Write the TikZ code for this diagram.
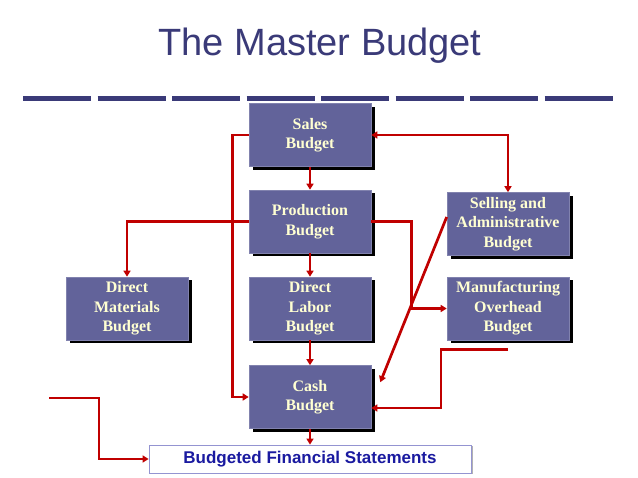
\documentclass[tikz,border=0pt]{standalone}
\usepackage{fontspec}
\setmainfont{Liberation Serif}
\setsansfont{Liberation Sans}
\usetikzlibrary{arrows.meta,shadows}
\definecolor{boxblue}{RGB}{98,99,154}
\definecolor{titleblue}{RGB}{58,58,120}
\definecolor{linkred}{RGB}{192,0,0}
\definecolor{cream}{RGB}{255,255,210}
\definecolor{bfsblue}{RGB}{26,26,160}
\tikzset{
	budget/.style={rectangle, fill=boxblue, draw=boxblue!80!white, line width=0.6pt,
		minimum width=122pt, minimum height=63pt, align=center, text=cream,
		font=\fontsize{16}{19.5}\selectfont\bfseries,
		drop shadow={shadow xshift=3.5pt, shadow yshift=-3.5pt, fill=black, opacity=1}},
	link/.style={draw=linkred, line width=2.7pt, -{Triangle[length=6pt,width=7pt]}}
}
\begin{document}
\begin{tikzpicture}[x=1pt,y=-1pt]
		\useasboundingbox[fill=white] (0,0) rectangle (638,478);
		\node[font=\sffamily\fontsize{38}{40}\selectfont, text=titleblue] (title) at (320,46) {The Master Budget};
		\draw[titleblue, line width=5pt, dash pattern=on 68.4pt off 6.1pt] (23,99) -- (613,99);
		% budget boxes
		\node[budget] (sales) at (310,135) {Sales\\Budget};
		\node[budget] (prod) at (310,221.5) {Production\\Budget};
		\node[budget] (sell) at (508,224) {Selling and\\Administrative\\Budget};
		\node[budget] (dm) at (127,308.5) {Direct\\Materials\\Budget};
		\node[budget] (dl) at (310,308.5) {Direct\\Labor\\Budget};
		\node[budget] (moh) at (508,308.5) {Manufacturing\\Overhead\\Budget};
		\node[budget] (cash) at (310,397) {Cash\\Budget};
		\node[rectangle, fill=white, draw=gray!60!blue!60, line width=0.8pt, minimum width=322pt, minimum height=28pt,
			font=\sffamily\fontsize{17}{20}\selectfont\bfseries, text=bfsblue,
			drop shadow={shadow xshift=1.5pt, shadow yshift=-1.5pt, fill=gray!60, opacity=1}] (bfs) at (310,459) {Budgeted Financial Statements};
		\coordinate (outside) at (49,398);
		% connectors
		\draw[link] (sales) -- (prod);
		\draw[link] (sales.west) -- ++(-16,0) |- (cash.west);
		\draw[link, {Triangle[length=6pt,width=7pt]}-{Triangle[length=6pt,width=7pt]}] (sales.east) -| (sell.north);
		\draw[link] (prod.west) -| (dm.north);
		\draw[link] (prod) -- (dl);
		\draw[link] (prod.east) -- ++(40,0) |- (moh.west);
		\draw[link] ([yshift=7pt]sell.west) -- ([xshift=9pt,yshift=-17pt]cash.north east);
		\draw[link] ([yshift=-9pt]moh.south) -- ++(-67,0) |- ([yshift=-11pt]cash.east);
		\draw[link] (dl) -- (cash);
		\draw[link] (cash) -- (bfs);
		\draw[link] (outside) -- ++(50,0) |- (bfs.west);
	\end{tikzpicture}
\end{document}
